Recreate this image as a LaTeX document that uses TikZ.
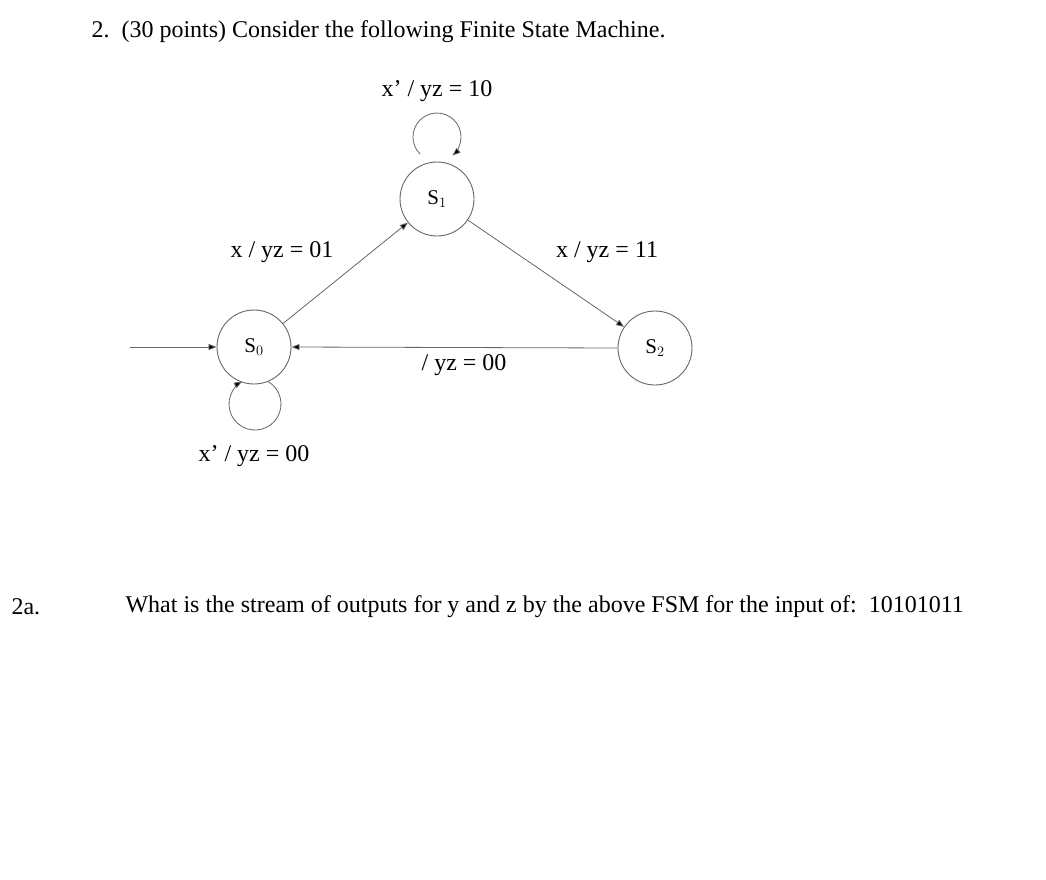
\documentclass[tikz,border=0pt]{standalone}
\usepackage{fontspec}
\setmainfont{Liberation Serif}
\usetikzlibrary{arrows.meta}
\begin{document}
\begin{tikzpicture}[x=1pt,y=-1pt,
  state/.style={circle,draw=black!60,line width=0.9pt,minimum size=74pt,inner sep=0pt,font=\fontsize{21}{22}\selectfont},
  edge/.style={draw=black!60,line width=0.8pt,-{Triangle[length=8pt,width=6pt,fill=black]}},
  lab/.style={font=\fontsize{24}{26}\selectfont},
  txt/.style={font=\fontsize{24}{26}\selectfont,anchor=west}]
\useasboundingbox (0,0) rectangle (1046,880);
\node[txt] (t) at (88,32) {2.\ \ (30 points) Consider the following Finite State Machine.};
\node[state] (s1) at (437,199) {S$_1$};
\node[state] (s0) at (254,347) {S$_0$};
\node[state] (s2) at (655,348) {S$_2$};
\coordinate (in) at (130,347);
\draw[edge] (in) -- (s0);
\draw[edge] (s0) -- (s1);
\draw[edge] (s1) -- (s2);
\draw[edge] (s2.west) -- (s0.east);
\coordinate (a1) at (420,154);
\draw[edge] (a1) arc[start angle=135,end angle=410,radius=24];
\coordinate (a0) at (268,381.5);
\draw[edge] (a0) arc[start angle=-60,end angle=240,radius=26];
\node[lab] (l1) at (437,91) {x' / yz = 10};
\node[lab] (l2) at (282,252) {x / yz = 01};
\node[lab] (l3) at (607,252) {x / yz = 11};
\node[lab] (l4) at (464,365) {/ yz = 00};
\node[lab] (l5) at (254,456) {x' / yz = 00};
\node[txt] (q) at (8,607) {2a.};
\node[txt] (q2) at (122,607) {What is the stream of outputs for y and z by the above FSM for the input of:\ \ 10101011};
\end{tikzpicture}
\end{document}
